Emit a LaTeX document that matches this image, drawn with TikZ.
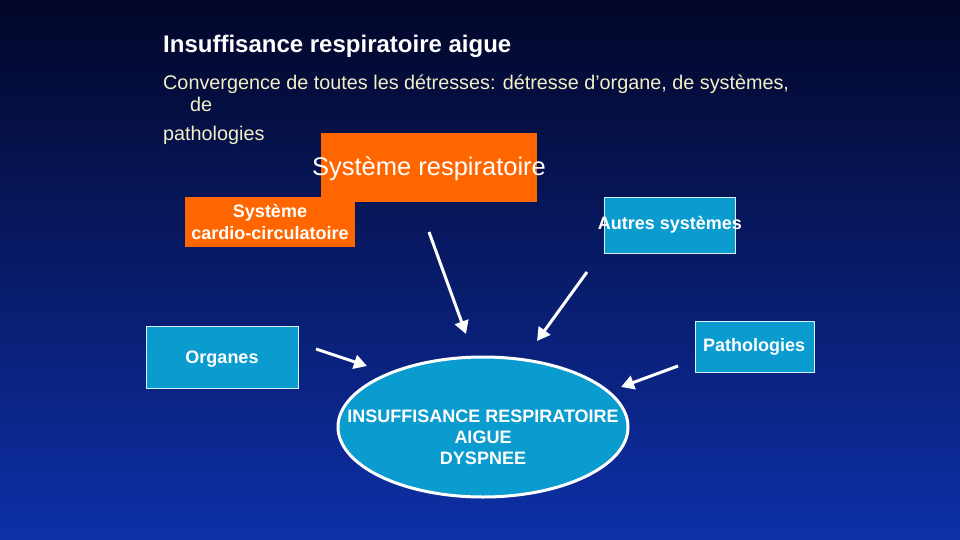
\documentclass[tikz,border=0pt]{standalone}
\usepackage{fontspec}
\setmainfont{Liberation Sans}
\usetikzlibrary{arrows.meta,shapes.geometric}
\definecolor{orng}{HTML}{FF6600}
\definecolor{bluebox}{HTML}{0A9BCF}
\definecolor{paleyel}{HTML}{F2F0C8}
\begin{document}
\begin{tikzpicture}[x=1pt,y=-1pt,
  obox/.style={fill=orng,draw=none,inner sep=0pt,text=white},
  bbox/.style={fill=bluebox,draw=white!85!bluebox,line width=0.8pt,inner sep=0pt,text=white},
  lab/.style={text=white,font=\bfseries\fontsize{18}{21}\selectfont},
  arr/.style={draw=white,line width=3pt,-{Triangle[length=13pt,width=14pt]}}]
\shade[top color={rgb,255:red,2;green,6;blue,40},bottom color={rgb,255:red,14;green,48;blue,168}] (0,0) rectangle (960,540);
\useasboundingbox (0,0) rectangle (960,540);
\node[anchor=base west,inner sep=0pt,text=white,font=\bfseries\fontsize{24}{28}\selectfont] (t) at (163,53) {Insuffisance respiratoire aigue};
\node[anchor=base west,inner sep=0pt,text=paleyel,font=\fontsize{19.8}{23}\selectfont] (l1) at (163,90) {Convergence de toutes les détresses: détresse d’organe, de systèmes,};
\node[anchor=base west,inner sep=0pt,text=paleyel,font=\fontsize{19.8}{23}\selectfont] (l2) at (190,112) {de};
\node[anchor=base west,inner sep=0pt,text=paleyel,font=\fontsize{19.8}{23}\selectfont] (l3) at (163,141) {pathologies};
\node[obox,minimum width=216pt,minimum height=69pt] (resp) at (429,167.5) {};
\node[text=white,font=\fontsize{25.5}{29}\selectfont] (respt) at (429,169) {Système respiratoire};
\node[obox,minimum width=170pt,minimum height=50pt,align=center,font=\bfseries\fontsize{18}{22}\selectfont] (card) at (270,222) {Système\\cardio-circulatoire};
\node[bbox,minimum width=131pt,minimum height=56pt] (autres) at (669.5,225) {};
\node[lab] (autrest) at (670,225) {Autres systèmes};
\node[bbox,minimum width=152pt,minimum height=62pt] (org) at (222,357) {};
\node[lab] (orgt) at (222,359) {Organes};
\node[bbox,minimum width=119pt,minimum height=51pt] (path) at (754.5,346.5) {};
\node[lab] (patht) at (754,347) {Pathologies};
\node[ellipse,fill=bluebox,draw=white,line width=3pt,minimum width=290pt,minimum height=140pt] (ira) at (483,427) {};
\node[text=white,align=center,font=\bfseries\fontsize{18}{21}\selectfont] (irat) at (483,437) {INSUFFISANCE RESPIRATOIRE\\AIGUE\\DYSPNEE};
\coordinate (a1s) at (429,232); \coordinate (a1e) at (466,334);
\coordinate (a2s) at (587,272); \coordinate (a2e) at (537,341);
\coordinate (a3s) at (316,349); \coordinate (a3e) at (367,366);
\coordinate (a4s) at (678,366); \coordinate (a4e) at (621,387);
\draw[arr] (a1s) -- (a1e);
\draw[arr] (a2s) -- (a2e);
\draw[arr] (a3s) -- (a3e);
\draw[arr] (a4s) -- (a4e);
\end{tikzpicture}
\end{document}
